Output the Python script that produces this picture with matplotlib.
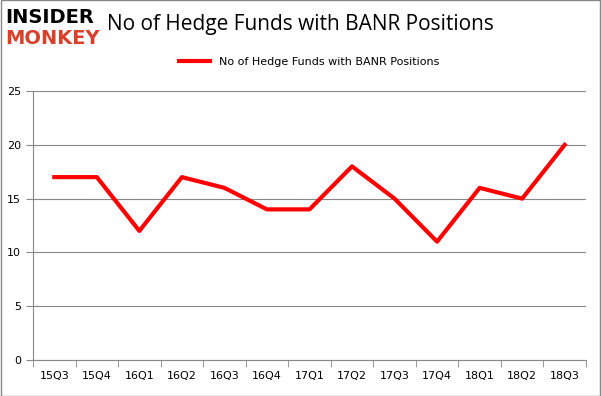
import matplotlib.pyplot as plt
import numpy as np

quarters = ["15Q3", "15Q4", "16Q1", "16Q2", "16Q3", "16Q4", "17Q1",
            "17Q2", "17Q3", "17Q4", "18Q1", "18Q2", "18Q3"]
funds = [17, 17, 12, 17, 16, 14, 14, 18, 15, 11, 16, 15, 20]
y_ticks = [0, 5, 10, 15, 20, 25]

fig = plt.figure(figsize=(6.01, 3.96), dpi=100)
ax = fig.add_axes([0.055, 0.091, 0.92, 0.679])

x = np.arange(len(quarters))
ax.plot(x, funds, color="#ff0000", lw=3, label="No of Hedge Funds with BANR Positions")

ax.set_xlim(-0.5, len(quarters) - 0.5)
ax.set_ylim(0, 25)
ax.set_yticks(y_ticks)
ax.set_xticks(x)
ax.set_xticklabels(quarters)
ax.set_xticks(np.arange(len(quarters) + 1) - 0.5, minor=True)
ax.tick_params(axis="x", which="major", length=0, labelsize=8, pad=8)
ax.tick_params(axis="x", which="minor", length=5, color="#888888", direction="out")
ax.tick_params(axis="y", length=5, color="#888888", labelsize=8)
ax.grid(axis="y", color="#888888", lw=0.8)
ax.set_axisbelow(True)
for s in ["top", "right"]:
    ax.spines[s].set_visible(False)
for s in ["left", "bottom"]:
    ax.spines[s].set_color("#888888")

fig.text(0.5, 0.937, "No of Hedge Funds with BANR Positions", ha="center", va="center",
         fontsize=15, family="Open Sans")
ax.legend(loc="center", bbox_to_anchor=(0.5, 1.108), frameon=False, fontsize=8,
          handlelength=2.8)

# logo
fig.text(0.008, 0.957, "INSIDER", fontsize=14, fontweight="bold", color="black",
         va="center", family="DejaVu Sans")
fig.text(0.008, 0.902, "MONKEY", fontsize=14, fontweight="bold", color="#d9412b",
         va="center", family="DejaVu Sans")

fig.patches.append(plt.Rectangle((0.001, 0.001), 0.998, 0.998, transform=fig.transFigure,
                                 fill=False, edgecolor="#888888", lw=1))
fig.savefig("out.png", dpi=100)
